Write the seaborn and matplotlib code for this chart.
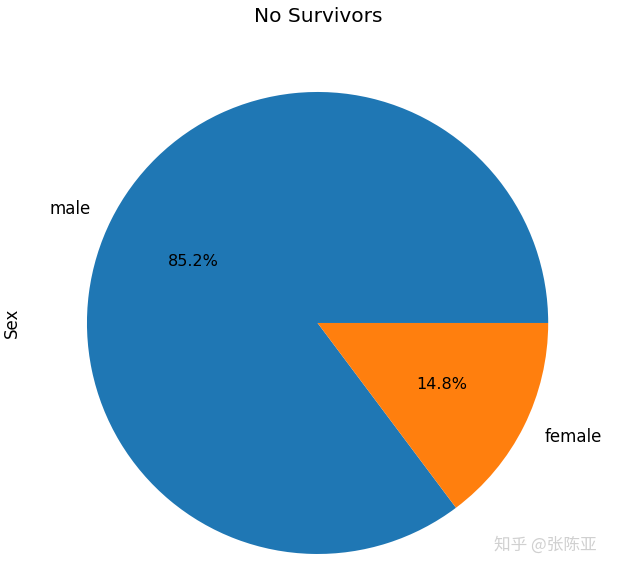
import matplotlib
matplotlib.use('Agg')
import matplotlib.pyplot as plt
import seaborn as sns

# data: Titanic passengers who did not survive, by sex
sexes = ['male', 'female']
counts = [468, 81]

title = 'No Survivors'
ylabel = 'Sex'
watermark = '知乎 @张陈亚'

colors = sns.color_palette('tab10', 2)

fig = plt.figure(figsize=(6.25, 5.72), dpi=100)
ax = fig.add_axes([30 / 625, 0, 577 / 625, 532 / 572])

ax.pie(counts, labels=sexes, colors=colors, autopct='%.1f%%',
       startangle=0, counterclock=True,
       textprops={'fontsize': 12})
for t in ax.texts:
    if t.get_text().endswith('%'):
        t.set_fontsize(11.5)

ax.set_aspect('auto')
ax.set_xlim(-1.247, 1.255)
ax.set_ylim(-1.078, 1.225)
ax.set_frame_on(False)
ax.set_xticks([])
ax.set_yticks([])
ax.set_ylabel(ylabel, fontsize=12)
ax.yaxis.set_label_coords(-0.016, 0.468)

fig.text(318 / 625, 1 - 17 / 572, title, ha='center', va='center', fontsize=14.5)
fig.text(545 / 625, 1 - 545 / 572, watermark, ha='center', va='center',
         fontsize=12, color='#d0d0d0', family=['Noto Sans CJK SC', 'DejaVu Sans'])

fig.savefig('out.png', dpi=100)
